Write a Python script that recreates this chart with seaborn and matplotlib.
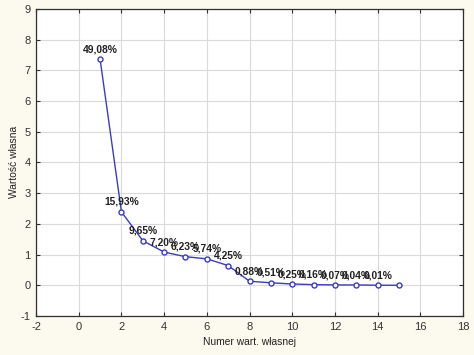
import matplotlib
matplotlib.use("Agg")
import matplotlib.pyplot as plt
import seaborn as sns
import pandas as pd

numbers = list(range(1, 16))
eigenvalues = [7.36, 2.39, 1.45, 1.08, 0.93, 0.86, 0.64, 0.13, 0.08, 0.04, 0.02, 0.01, 0.01, 0.00, 0.00]
labels = ["49,08%", "15,93%", "9,65%", "7,20%", "6,23%", "5,74%", "4,25%",
          "0,88%", "0,51%", "0,25%", "0,16%", "0,07%", "0,04%", "0,01%"]
x_ticks = [-2, 0, 2, 4, 6, 8, 10, 12, 14, 16, 18]
y_ticks = [-1, 0, 1, 2, 3, 4, 5, 6, 7, 8, 9]

df = pd.DataFrame({"Numer wart. własnej": numbers, "Wartość własna": eigenvalues})

sns.set_style("whitegrid")
plt.rcParams["font.family"] = ["Liberation Sans", "DejaVu Sans"]
plt.rcParams["axes.unicode_minus"] = False

bg = "#FCF9EE"
fig = plt.figure(figsize=(4.74, 3.55), dpi=100, facecolor=bg)
ax = fig.add_axes([0.076, 0.110, 0.901, 0.865])
ax.set_facecolor("white")

line_color = "#3B3BC4"
sns.lineplot(data=df, x="Numer wart. własnej", y="Wartość własna", ax=ax,
             color=line_color, linewidth=1.0, marker="o", markersize=3.6,
             markerfacecolor="white", markeredgecolor=line_color, markeredgewidth=1.0)

for xv, yv, lab in zip(numbers, eigenvalues, labels):
    ax.annotate(lab, (xv, yv), xytext=(0, 3.5), textcoords="offset points",
                ha="center", va="bottom", fontsize=7.4, color="#222222",
                fontweight="bold")

ax.set_xlim(-2, 18)
ax.set_ylim(-1, 9)
ax.set_xticks(x_ticks)
ax.set_yticks(y_ticks)
ax.grid(True, color="#DADADA", linewidth=0.8)
for s in ax.spines.values():
    s.set_color("#303030")
    s.set_linewidth(0.9)
ax.tick_params(direction="in", length=3, width=0.8, color="#303030",
               labelsize=8, labelcolor="#333333", top=True, right=True,
               bottom=True, left=True, pad=4)
ax.set_xlabel("Numer wart. własnej", fontsize=7.4, color="#222222", labelpad=4)
ax.set_ylabel("Wartość własna", fontsize=7.4, color="#222222", labelpad=1)

fig.savefig("out.png", dpi=100, facecolor=bg)
